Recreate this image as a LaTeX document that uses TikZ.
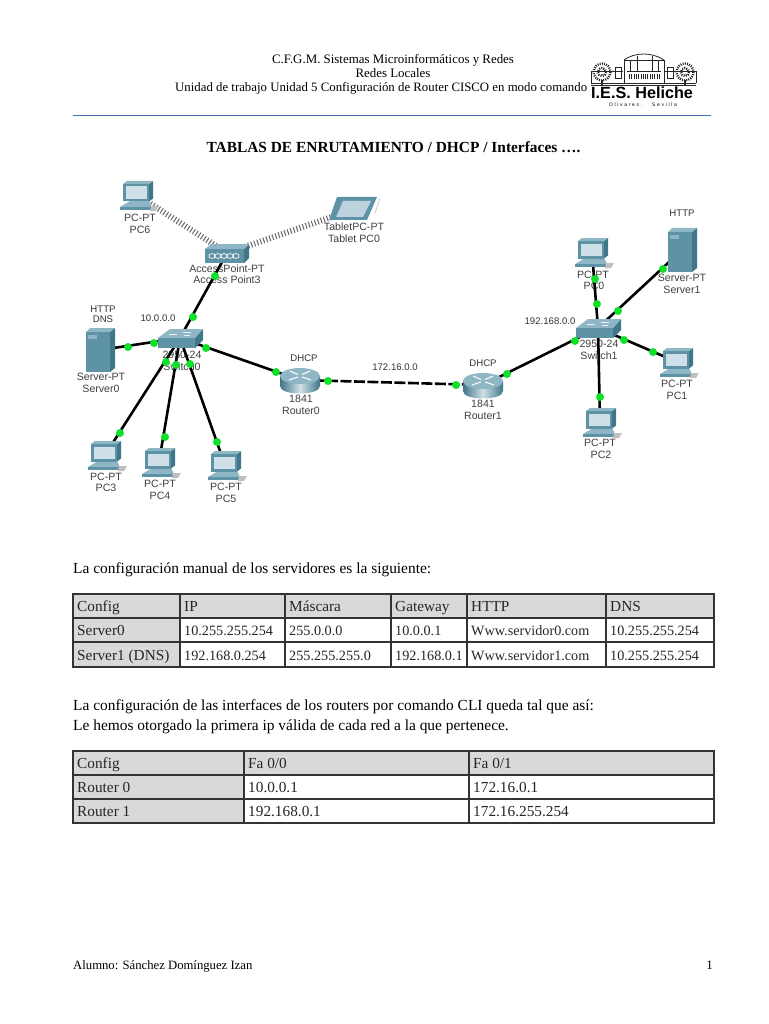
\documentclass[tikz,border=0pt]{standalone}
\usepackage{fontspec}
\setmainfont{Liberation Serif}
\newfontfamily\devfont{Liberation Sans}
\definecolor{tealA}{HTML}{5E93A6}
\definecolor{tealB}{HTML}{3F7688}
\definecolor{tealC}{HTML}{8FB6C4}
\definecolor{screenc}{HTML}{CFE0E8}
\definecolor{headg}{HTML}{D9D9D9}
\definecolor{rule}{HTML}{4472B4}
\definecolor{dotg}{HTML}{0FE02A}
\newcommand{\tcell}[8][]{%
  \draw[tline] (#3,#4) rectangle (#5,#6);
  \fill[#7] ({#3+1.4},{#4+1.4}) rectangle ({#5-1.4},{#6-1.4});
  \node[celltext,#1] (#2) at ({#3+4},{#6-7}) {#8};}
\tikzset{
  body/.style={font=\fontsize{15.42}{17}\selectfont,text=black,inner sep=0pt,anchor=base west},
  hdr/.style={font=\fontsize{12.9}{14}\selectfont,text=black,inner sep=0pt,anchor=base},
  celltext/.style={font=\fontsize{15.3}{17}\selectfont,text=black!85,inner sep=0pt,anchor=base west},
  numtext/.style={font=\fontsize{14.2}{16}\selectfont},
  tline/.style={draw=black!80,line width=1.1pt},
  devlabel/.style={font=\devfont\fontsize{10.6}{12}\selectfont,text=black!75,inner sep=0pt},
  netlabel/.style={font=\devfont\fontsize{9.6}{12}\selectfont,text=black!80,inner sep=0pt},
  link/.style={draw=black,line width=2.6pt},
  serial/.style={draw=black,line width=2.6pt,dash pattern=on 11pt off 2.5pt},
  radio/.style={draw=black!60,line width=6pt,dash pattern=on 1pt off 2.2pt},
  dot/.style={circle,fill=dotg,inner sep=0pt,minimum size=8pt},
  pcicon/.pic={
    \fill[tealC] (-7,6) -- (12,6) -- (15,12) -- (-17,12) -- cycle;
    \fill[tealA] (-17,12) -- (15,12) -- (15,15) -- (-17,15) -- cycle;
    \fill[black!25] (14,11) -- (22,11) -- (19,16) -- (13,16) -- cycle;
    \fill[tealB] (12,-11) -- (16,-14) -- (16,3.5) -- (12,6.5) -- cycle;
    \fill[tealC] (-14,-11) -- (-10,-14) -- (16,-14) -- (12,-11) -- cycle;
    \fill[tealA] (-14,-11) rectangle (12,6.5);
    \fill[screenc] (-11.5,-8.5) rectangle (9.5,4);
  },
  servericon/.pic={
    \fill[tealB] (10,-18) -- (15,-22) -- (15,18) -- (10,22) -- cycle;
    \fill[tealC] (-14,-18) -- (-10,-22) -- (15,-22) -- (10,-18) -- cycle;
    \fill[tealA] (-14,-18) rectangle (10,22);
    \fill[tealC] (-12,-15) rectangle (-3,-11);
  },
  switchicon/.pic={
    \fill[tealB] (15,0) -- (23,-9) -- (23,2) -- (15,10) -- cycle;
    \fill[tealC] (-22,0) -- (-10,-9) -- (23,-9) -- (15,0) -- cycle;
    \fill[tealA] (-22,0) rectangle (15,10);
    \draw[white!80!tealC,line width=.5pt] (-11,-4) -- (-3,-4) (3,-6) -- (11,-6) (4,-3) -- (10,-3);
  },
  apicon/.pic={
    \fill[tealB] (17,-4) -- (22,-9) -- (22,5) -- (17,10) -- cycle;
    \fill[tealC] (-22,-4) -- (-16,-9) -- (22,-9) -- (17,-4) -- cycle;
    \fill[tealA] (-22,-4) rectangle (17,10);
    \foreach \xx in {-15,-9,...,9} \draw[white,line width=.7pt] (\xx,3) ellipse (3.2 and 2.4);
  },
  routericon/.pic={
    \path[left color=tealB,right color=tealB,middle color=screenc]
      (-20,-4) -- (-20,6) .. controls (-20,16) and (20,16) .. (20,6) -- (20,-4) -- cycle;
    \fill[tealC] (0,-4) ellipse (20 and 8);
    \draw[white,line width=1pt] (-10,-9) -- (-2,-5.5) (10,-9) -- (2,-5.5) (-11,0) -- (-2,-3) (11,0) -- (2,-3);
  },
  tableticon/.pic={
    \fill[tealA] (-15,-13) -- (25,-13) -- (15,10) -- (-23,10) -- cycle;
    \fill[screenc!70!tealC] (-9,-9) -- (19,-9) -- (11,7) -- (-16,7) -- cycle;
    \draw[black!20,line width=.8pt] (28,-12) -- (23,3);
  },
  treeblob/.style={line width=2.4pt,dash pattern=on 1pt off 1.2pt},
}
\begin{document}
\begin{tikzpicture}[x=1pt,y=-1pt]
\useasboundingbox (0,0) rectangle (768,1024);
\fill[white] (0,0) rectangle (768,1024);

% page header
\node[hdr] (h1) at (393,64) {C.F.G.M. Sistemas Microinformáticos y Redes};
\node[hdr] (h2) at (393,78) {Redes Locales};
\node[hdr,anchor=base west,font=\fontsize{12.82}{14}\selectfont] (h3) at (175,92) {Unidad de trabajo Unidad 5 Configuración de Router CISCO en modo comando};
\draw[rule,line width=.9pt] (73,115.5) -- (711,115.5);
\node[font=\bfseries\fontsize{15.4}{17}\selectfont,inner sep=0pt,anchor=base] (title) at (393.5,153) {TABLAS DE ENRUTAMIENTO / DHCP / Interfaces ….};

% logo
\begin{scope}[draw=black!85,line width=.8pt]
  \draw (591,71) -- (623,71) (665,71) -- (696,71);
  \draw (591,71) -- (591,83) (696,71) -- (696,83);
  \draw (591,83) -- (696,83);
  \draw (591,85.5) -- (696,85.5);
  \draw (624,83) -- (624,60) -- (664,60) -- (664,83);
  \draw (624,60) .. controls (635,52) and (652,52) .. (664,60);
  \draw (637,56) -- (637,71) (652,56) -- (652,71);
  \draw (630,60) -- (630,71) (658,60) -- (658,71);
  \draw (627,71) -- (661,71);
  \draw[line width=5pt,dash pattern=on 1pt off 1.3pt] (629,77) -- (659,77);
  \draw (615,67) rectangle (621,78) (667,67) rectangle (673,78);
  \draw[treeblob] (602,72) circle (8.5);
  \draw[treeblob] (602,72) circle (4);
  \draw[treeblob] (685,72) circle (8.5);
  \draw[treeblob] (685,72) circle (4);
  \draw[line width=1.2pt] (602,80) -- (602,85) (685,80) -- (685,85);
\end{scope}
\node[font=\devfont\bfseries\fontsize{16.2}{18}\selectfont,inner sep=0pt,anchor=base west] (logotext) at (591,98.5) {I.E.S. Heliche};
\node[font=\devfont\fontsize{5}{6}\selectfont,inner sep=0pt,anchor=base] (logosub) at (643,106.5) {O\,\,l\,\,i\,\,v\,\,a\,\,r\,\,e\,\,s\,\,.\qquad S\,\,e\,\,v\,\,i\,\,l\,\,l\,\,a};

% device positions
\coordinate (pc6) at (137,195);
\coordinate (tab) at (352,210);
\coordinate (ap) at (227,253);
\coordinate (sw0) at (180,338);
\coordinate (srv0) at (100,350);
\coordinate (r0) at (300,380);
\coordinate (r1) at (483,385);
\coordinate (pc3) at (105,455);
\coordinate (pc4) at (159,462);
\coordinate (pc5) at (225,465);
\coordinate (sw1) at (598,328);
\coordinate (pc0) at (592,252);
\coordinate (srv1) at (682,250);
\coordinate (pc1) at (677,362);
\coordinate (pc2) at (600,422);

% device labels
\node[devlabel] (l1) at (140,218) {PC-PT};
\node[devlabel] (l2) at (140,229.5) {PC6};
\node[devlabel] (l3) at (354,227) {TabletPC-PT};
\node[devlabel] (l4) at (354,239) {Tablet PC0};
\node[devlabel] (l5) at (227,268.5) {AccessPoint-PT};
\node[devlabel] (l6) at (227,280) {Access Point3};
\node[devlabel] (l7) at (182,355) {2950-24};
\node[devlabel] (l8) at (182,367) {Switch0};
\node[devlabel] (l9) at (101,377) {Server-PT};
\node[devlabel] (l10) at (101,389) {Server0};
\node[devlabel] (l11) at (301,399) {1841};
\node[devlabel] (l12) at (301,411) {Router0};
\node[devlabel] (l13) at (106,477) {PC-PT};
\node[devlabel] (l14) at (106,488) {PC3};
\node[devlabel] (l15) at (160,483.5) {PC-PT};
\node[devlabel] (l16) at (160,496) {PC4};
\node[devlabel] (l17) at (226,487) {PC-PT};
\node[devlabel] (l18) at (226,499) {PC5};
\node[devlabel] (l19) at (483,404) {1841};
\node[devlabel] (l20) at (483,416) {Router1};
\node[devlabel] (l21) at (599,344) {2950-24};
\node[devlabel] (l22) at (599,356) {Switch1};
\node[devlabel] (l23) at (593,275) {PC-PT};
\node[devlabel] (l24) at (594,286) {PC0};
\node[devlabel] (l25) at (682,278) {Server-PT};
\node[devlabel] (l26) at (682,290) {Server1};
\node[devlabel] (l27) at (677,384) {PC-PT};
\node[devlabel] (l28) at (677,396) {PC1};
\node[devlabel] (l29) at (600,443) {PC-PT};
\node[devlabel] (l30) at (601,455) {PC2};
\node[netlabel] (n1) at (103,309) {HTTP};
\node[netlabel] (n2) at (103,319.5) {DNS};
\node[netlabel] (n3) at (158,318) {10.0.0.0};
\node[netlabel] (n4) at (304,358) {DHCP};
\node[netlabel] (n5) at (395,367.5) {172.16.0.0};
\node[netlabel] (n6) at (483,363) {DHCP};
\node[netlabel] (n7) at (550,321) {192.168.0.0};
\node[netlabel] (n8) at (682,213) {HTTP};

% connectors
\draw[radio] (pc6) -- (ap);
\draw[radio] (tab) -- (ap);
\draw[link] (ap) -- (sw0);
\draw[link] (srv0) -- (sw0);
\draw[link] (sw0) -- (r0);
\draw[link] (sw0) -- (pc3);
\draw[link] (sw0) -- (pc4);
\draw[link] (sw0) -- (pc5);
\draw[serial] (r0) -- (r1);
\draw[link] (r1) -- (sw1);
\draw[link] (sw1) -- (pc0);
\draw[link] (sw1) -- (srv1);
\draw[link] (sw1) -- (pc1);
\draw[link] (sw1) -- (pc2);

% device icons
\pic at (pc6) {pcicon};
\pic at (tab) {tableticon};
\pic at (ap) {apicon};
\pic at (sw0) {switchicon};
\pic at (srv0) {servericon};
\pic at (r0) {routericon};
\pic at (r1) {routericon};
\pic at (pc3) {pcicon};
\pic at (pc4) {pcicon};
\pic at (pc5) {pcicon};
\pic at (sw1) {switchicon};
\pic at (pc0) {pcicon};
\pic at (srv1) {servericon};
\pic at (pc1) {pcicon};
\pic at (pc2) {pcicon};

% link lights
\node[dot] (d1) at (215,276) {};
\node[dot] (d2) at (193,317) {};
\node[dot] (d3) at (128,347) {};
\node[dot] (d4) at (154,343) {};
\node[dot] (d5) at (206,348) {};
\node[dot] (d6) at (276,372) {};
\node[dot] (d7) at (328,381) {};
\node[dot] (d8) at (456,385) {};
\node[dot] (d9) at (507,374) {};
\node[dot] (d10) at (575,341) {};
\node[dot] (d11) at (166,362) {};
\node[dot] (d12) at (120,433) {};
\node[dot] (d13) at (176,365) {};
\node[dot] (d14) at (165,437) {};
\node[dot] (d15) at (190,364) {};
\node[dot] (d16) at (217,442) {};
\node[dot] (d17) at (597,304) {};
\node[dot] (d18) at (595,279) {};
\node[dot] (d19) at (618,311) {};
\node[dot] (d20) at (663,269) {};
\node[dot] (d21) at (624,340) {};
\node[dot] (d22) at (653,352) {};
\node[dot] (d23) at (600,397) {};

% text
\node[body] (t1) at (73,573) {La configuración manual de los servidores es la siguiente:};
\node[body] (t2) at (73,710) {La configuración de las interfaces de los routers por comando CLI queda tal que así:};
\node[body] (t3) at (73,730) {Le hemos otorgado la primera ip válida de cada red a la que pertenece.};

% table 1
\tcell{a11}{73}{594}{180}{618}{headg}{Config}
\tcell{a12}{180}{594}{285}{618}{headg}{IP}
\tcell{a13}{285}{594}{391}{618}{headg}{Máscara}
\tcell{a14}{391}{594}{467}{618}{headg}{Gateway}
\tcell{a15}{467}{594}{606}{618}{headg}{HTTP}
\tcell{a16}{606}{594}{714}{618}{headg}{DNS}
\tcell{a21}{73}{618}{180}{642}{headg}{Server0}
\tcell[numtext]{a22}{180}{618}{285}{642}{white}{10.255.255.254}
\tcell[numtext]{a23}{285}{618}{391}{642}{white}{255.0.0.0}
\tcell[numtext]{a24}{391}{618}{467}{642}{white}{10.0.0.1}
\tcell[numtext]{a25}{467}{618}{606}{642}{white}{Www.servidor0.com}
\tcell[numtext]{a26}{606}{618}{714}{642}{white}{10.255.255.254}
\tcell{a31}{73}{642}{180}{667}{headg}{Server1 (DNS)}
\tcell[numtext]{a32}{180}{642}{285}{667}{white}{192.168.0.254}
\tcell[numtext]{a33}{285}{642}{391}{667}{white}{255.255.255.0}
\tcell[numtext]{a34}{391}{642}{467}{667}{white}{192.168.0.1}
\tcell[numtext]{a35}{467}{642}{606}{667}{white}{Www.servidor1.com}
\tcell[numtext]{a36}{606}{642}{714}{667}{white}{10.255.255.254}

% table 2
\tcell{b11}{73}{751}{244}{775}{headg}{Config}
\tcell{b12}{244}{751}{469}{775}{headg}{Fa 0/0}
\tcell{b13}{469}{751}{714}{775}{headg}{Fa 0/1}
\tcell{b21}{73}{775}{244}{799}{headg}{Router 0}
\tcell{b22}{244}{775}{469}{799}{white}{10.0.0.1}
\tcell{b23}{469}{775}{714}{799}{white}{172.16.0.1}
\tcell{b31}{73}{799}{244}{823}{headg}{Router 1}
\tcell{b32}{244}{799}{469}{823}{white}{192.168.0.1}
\tcell{b33}{469}{799}{714}{823}{white}{172.16.255.254}

% footer
\node[hdr,anchor=base west,font=\fontsize{12.7}{14}\selectfont] (f1) at (73,969) {Alumno: Sánchez Domínguez Izan};
\node[hdr,anchor=base east] (f2) at (713,969) {1};
\end{tikzpicture}
\end{document}
